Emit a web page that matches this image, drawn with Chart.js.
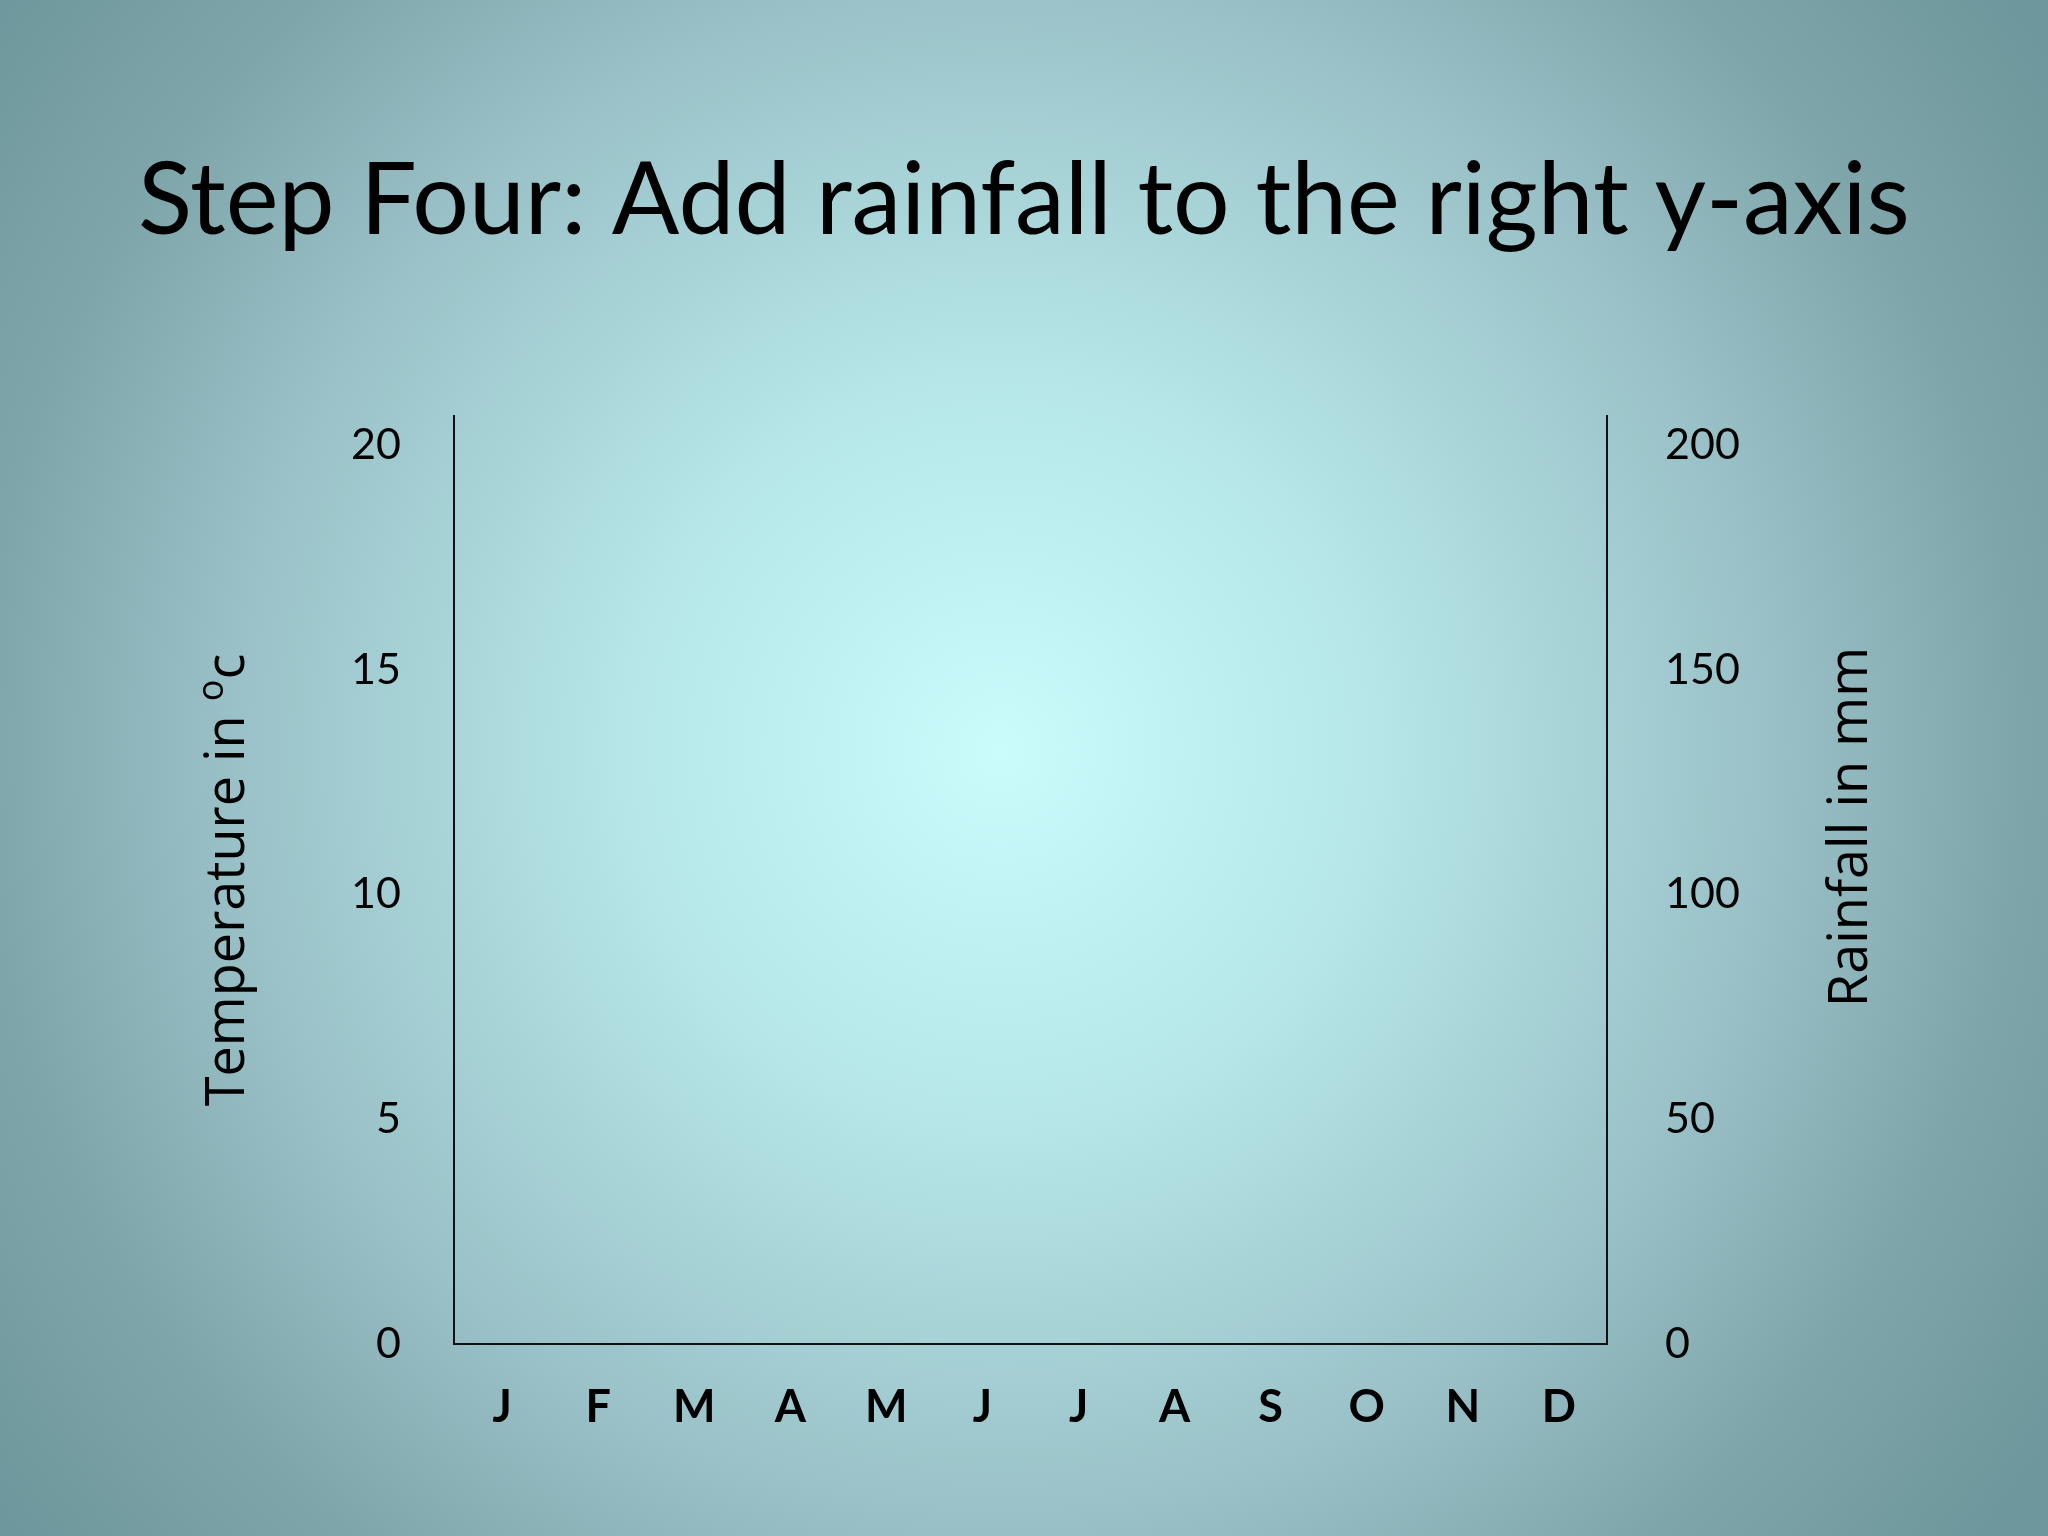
<!DOCTYPE html>
<html>
<head>
<meta charset="utf-8">
<script src="https://cdn.jsdelivr.net/npm/chart.js@4/dist/chart.umd.min.js"></script>
<style>
  html, body { margin: 0; padding: 0; }
  body {
    width: 2048px; height: 1536px; overflow: hidden;
    background: radial-gradient(circle 1260px at 1000px 750px,
      #cafcfc 0%, #b6e6e8 30%, #9ac2c8 60%, #7ea5aa 81%, #6d979c 100%);
  }
  canvas { display: block; }
</style>
</head>
<body>
<canvas id="chart" width="2048" height="1536"></canvas>
<script>
/* === Data === */
const months      = ["J","F","M","A","M","J","J","A","S","O","N","D"];
const temperature = [];   // nothing plotted yet at this step
const rainfall    = [];
const tempTicks   = [0, 5, 10, 15, 20];
const rainTicks   = [0, 50, 100, 150, 200];

const titleText   = "Step Four: Add rainfall to the right y-axis";
const tempTitle   = "Temperature in ";
const tempUnitSup = "o";
const tempUnit    = "c";
const rainTitle   = "Rainfall in mm";

/* === Side titles, both read bottom to top === */
const sideTitles = {
  id: 'sideTitles',
  afterDraw(chart) {
    const c = chart.ctx, a = chart.chartArea;
    c.save();
    c.fillStyle = '#000';
    c.textBaseline = 'middle';

    // left: temperature with superscript unit
    const big = '54px "Open Sans"', small = '36px "Open Sans"';
    c.font = big;
    const w1 = c.measureText(tempTitle).width, w3 = c.measureText(tempUnit).width;
    c.font = small;
    const w2 = c.measureText(tempUnitSup).width;
    const total = w1 + w2 + w3;
    c.translate(a.left - 225, 880);
    c.rotate(-Math.PI / 2);
    c.textAlign = 'left';
    c.font = big;
    c.fillText(tempTitle, -total / 2, 0);
    c.font = small;
    c.fillText(tempUnitSup, -total / 2 + w1, -16);
    c.font = big;
    c.fillText(tempUnit, -total / 2 + w1 + w2, 0);
    c.restore();

    // right: rainfall
    c.save();
    c.fillStyle = '#000';
    c.textBaseline = 'middle';
    c.textAlign = 'center';
    c.font = '54px "Open Sans"';
    c.translate(a.right + 245, 827);
    c.rotate(-Math.PI / 2);
    c.fillText(rainTitle, 0, 0);
    c.restore();
  }
};

Chart.defaults.font.family = 'Lato';
Chart.defaults.color = '#000';

new Chart(document.getElementById('chart'), {
  type: 'bar',
  data: {
    labels: months,
    datasets: [
      { label: 'Rainfall', data: rainfall, yAxisID: 'y2', backgroundColor: '#3b6fd0' },
      { label: 'Temperature', type: 'line', data: temperature, yAxisID: 'y', borderColor: '#d03030' }
    ]
  },
  options: {
    responsive: false,
    devicePixelRatio: 1,
    animation: false,
    layout: { padding: 0 },
    plugins: {
      legend: { display: false },
      tooltip: { enabled: false },
      title: {
        display: true,
        text: titleText,
        color: '#000',
        font: { family: 'Lato', size: 100, weight: 'normal', lineHeight: 1.2 },
        padding: { top: 142, bottom: 154 }
      }
    },
    scales: {
      x: {
        grid: { display: false, drawTicks: false },
        border: { display: true, color: '#111', width: 2 },
        ticks: { font: { size: 45, weight: 'bold' }, padding: 36, maxRotation: 0, autoSkip: false },
        afterFit: s => { s.height = 192; }
      },
      y: {
        position: 'left',
        min: 0, max: 20.645,
        grid: { display: false, drawTicks: false },
        border: { display: true, color: '#111', width: 2 },
        ticks: { font: { size: 43 }, padding: 53 },
        afterBuildTicks: s => { s.ticks = tempTicks.map(v => ({ value: v })); },
        afterFit: s => { s.width = 454; }
      },
      y2: {
        position: 'right',
        min: 0, max: 206.45,
        grid: { display: false, drawTicks: false },
        border: { display: true, color: '#111', width: 2 },
        ticks: { font: { size: 43 }, padding: 58 },
        afterBuildTicks: s => { s.ticks = rainTicks.map(v => ({ value: v })); },
        afterFit: s => { s.width = 441; }
      }
    }
  },
  plugins: [sideTitles]
});
</script>
</body>
</html>
